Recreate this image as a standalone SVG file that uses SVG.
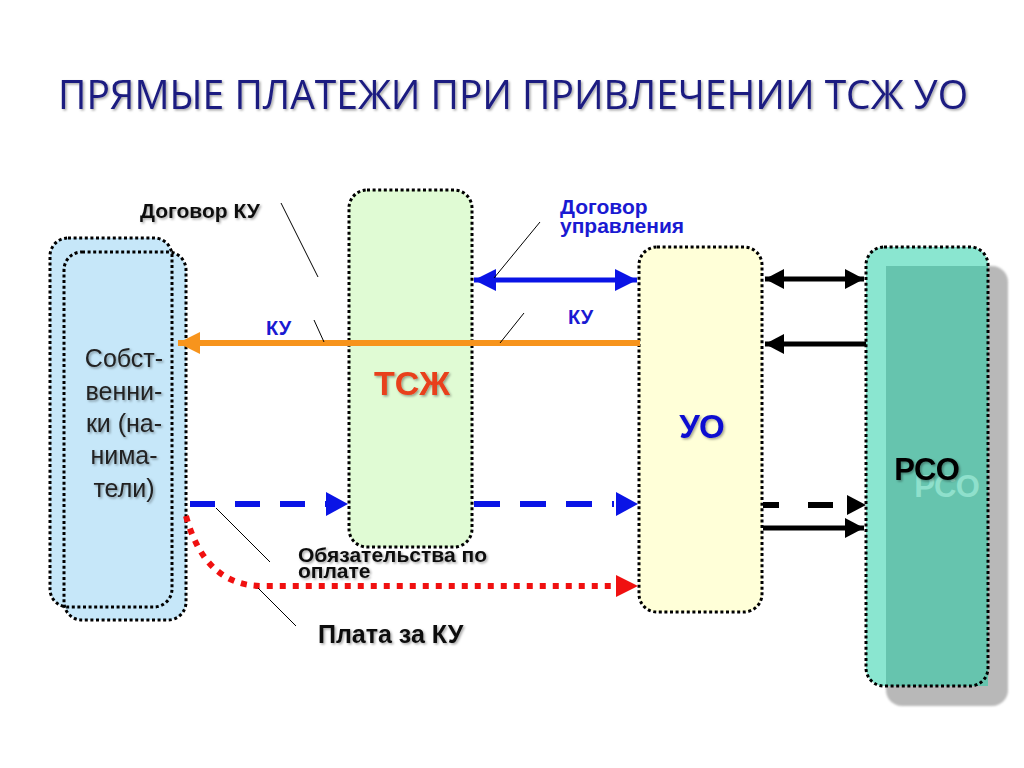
<svg xmlns="http://www.w3.org/2000/svg" width="1024" height="768" viewBox="0 0 1024 768">
<defs>
<style>
.box{stroke:#000;stroke-width:3;stroke-dasharray:3 2.6}
.lbl{font-family:"Liberation Sans",Arial,sans-serif;font-weight:bold}
.lead{stroke:#000;stroke-width:1;fill:none}
</style>
<filter id="sh" x="-20%" y="-20%" width="140%" height="140%">
<feDropShadow dx="1.5" dy="1.5" stdDeviation="1" flood-color="#000" flood-opacity="0.35"/>
</filter>
<filter id="blur" x="-10%" y="-10%" width="120%" height="120%">
<feGaussianBlur stdDeviation="1.2"/>
</filter>
<marker id="hBlue" markerUnits="userSpaceOnUse" markerWidth="24" markerHeight="22" refX="22" refY="11" orient="auto-start-reverse"><path d="M0,0 L22,11 L0,22 Z" fill="#0a14e6"/></marker>
<marker id="hBlack" markerUnits="userSpaceOnUse" markerWidth="22" markerHeight="20" refX="19" refY="10" orient="auto-start-reverse"><path d="M0,0 L19,10 L0,20 Z" fill="#000"/></marker>
<marker id="hOrange" markerUnits="userSpaceOnUse" markerWidth="24" markerHeight="22" refX="22" refY="11" orient="auto-start-reverse"><path d="M0,0 L22,11 L0,22 Z" fill="#f7941d"/></marker>
</defs>
<rect width="1024" height="768" fill="#fff"/>
<text x="58" y="109" textLength="910" lengthAdjust="spacingAndGlyphs" font-family="'Open Sans','Noto Sans',sans-serif" font-size="40" fill="#1a1a80" filter="url(#sh)">ПРЯМЫЕ ПЛАТЕЖИ ПРИ ПРИВЛЕЧЕНИИ ТСЖ УО</text>

<g id="sobstvenniki">
<rect x="50" y="238" width="122" height="369" rx="18" fill="#c6e7f9"/>
<rect x="64" y="252" width="122" height="368" rx="18" fill="#c6e7f9"/>
<rect class="box" x="50" y="238" width="122" height="369" rx="18" fill="none"/>
<rect class="box" x="64" y="252" width="122" height="368" rx="18" fill="none"/>
<g font-family="'Liberation Sans',Arial,sans-serif" font-size="25" fill="#222" text-anchor="middle" filter="url(#sh)">
<text x="124" y="367">Собст-</text>
<text x="124" y="400">венни-</text>
<text x="124" y="432">ки (на-</text>
<text x="124" y="464">нима-</text>
<text x="124" y="497">тели)</text>
</g>
</g>

<g id="tszh">
<rect class="box" x="349" y="190" width="123" height="357" rx="18" fill="#e0fbd4"/>
<text class="lbl" x="412" y="395" font-size="34" fill="#e8401c" text-anchor="middle" filter="url(#sh)">ТСЖ</text>
</g>

<g id="uo">
<rect class="box" x="639" y="247" width="123" height="365" rx="18" fill="#ffffd8"/>
<text class="lbl" x="702" y="438" font-size="33" fill="#1010d0" text-anchor="middle" filter="url(#sh)">УО</text>
</g>

<g id="rso">
<rect x="886" y="266" width="122" height="440" rx="16" fill="#b8b8b8" filter="url(#blur)"/>
<rect x="866" y="247" width="122" height="439" rx="18" fill="#8ae6d0"/>
<rect x="886" y="266" width="102" height="420" fill="#66c4ae"/>
<rect x="866" y="247" width="122" height="439" rx="18" fill="none" stroke="#000" stroke-width="3" stroke-dasharray="3 2.6"/>
<text class="lbl" x="947" y="497" font-size="31" fill="#8fe0cc" text-anchor="middle">РСО</text>
<text class="lbl" x="927" y="480" font-size="31" fill="#000" text-anchor="middle" filter="url(#sh)">РСО</text>
</g>

<g id="connectors" fill="none">
<line x1="474" y1="280" x2="637" y2="280" stroke="#0a14e6" stroke-width="5" marker-start="url(#hBlue)" marker-end="url(#hBlue)"/>
<line x1="640" y1="343" x2="178" y2="343" stroke="#f7941d" stroke-width="6" marker-end="url(#hOrange)"/>
<line x1="190" y1="504" x2="330" y2="504" stroke="#0a14e6" stroke-width="6" stroke-dasharray="25 20"/>
<path d="M326,492 L348,504 L326,516 Z" fill="#0a14e6"/>
<line x1="474" y1="504" x2="614" y2="504" stroke="#0a14e6" stroke-width="6" stroke-dasharray="26 20"/>
<path d="M616,492 L638,504 L616,516 Z" fill="#0a14e6"/>
<path d="M186,516 C198,560 222,586 262,586 L616,586" stroke="#f01010" stroke-width="6" stroke-dasharray="6 7"/>
<path d="M616,575 L638,586 L616,597 Z" fill="#f01010"/>
<line x1="765" y1="279" x2="864" y2="279" stroke="#000" stroke-width="5" marker-start="url(#hBlack)" marker-end="url(#hBlack)"/>
<line x1="866" y1="344" x2="765" y2="344" stroke="#000" stroke-width="5" marker-end="url(#hBlack)"/>
<line x1="763" y1="505" x2="848" y2="505" stroke="#000" stroke-width="6" stroke-dasharray="16 29 25 100"/>
<path d="M847,495 L866,505 L847,515 Z" fill="#000"/>
<line x1="763" y1="528" x2="864" y2="528" stroke="#000" stroke-width="5" marker-end="url(#hBlack)"/>
<line class="lead" x1="281" y1="203" x2="318" y2="277"/>
<line class="lead" x1="314" y1="320" x2="324" y2="342"/>
<line class="lead" x1="540" y1="222" x2="494" y2="278"/>
<line class="lead" x1="524" y1="313" x2="500" y2="343"/>
<line class="lead" x1="216" y1="508" x2="270" y2="562"/>
<line class="lead" x1="258" y1="588" x2="296" y2="626"/>
</g>

<g id="labels">
<text class="lbl" x="140" y="218" font-size="21" fill="#111" filter="url(#sh)">Договор КУ</text>
<text class="lbl" x="560" y="214" font-size="21" fill="#1a1ad2">Договор</text>
<text class="lbl" x="560" y="233" font-size="21" fill="#1a1ad2">управления</text>
<text class="lbl" x="266" y="335" font-size="20" fill="#1a1ad2">КУ</text>
<text class="lbl" x="568" y="324" font-size="20" fill="#1a1ad2">КУ</text>
<text class="lbl" x="298" y="562" font-size="21" fill="#111" filter="url(#sh)">Обязательства по</text>
<text class="lbl" x="298" y="578" font-size="21" fill="#111" filter="url(#sh)">оплате</text>
<text class="lbl" x="318" y="643" font-size="25" fill="#111" filter="url(#sh)">Плата за КУ</text>
</g>
</svg>
